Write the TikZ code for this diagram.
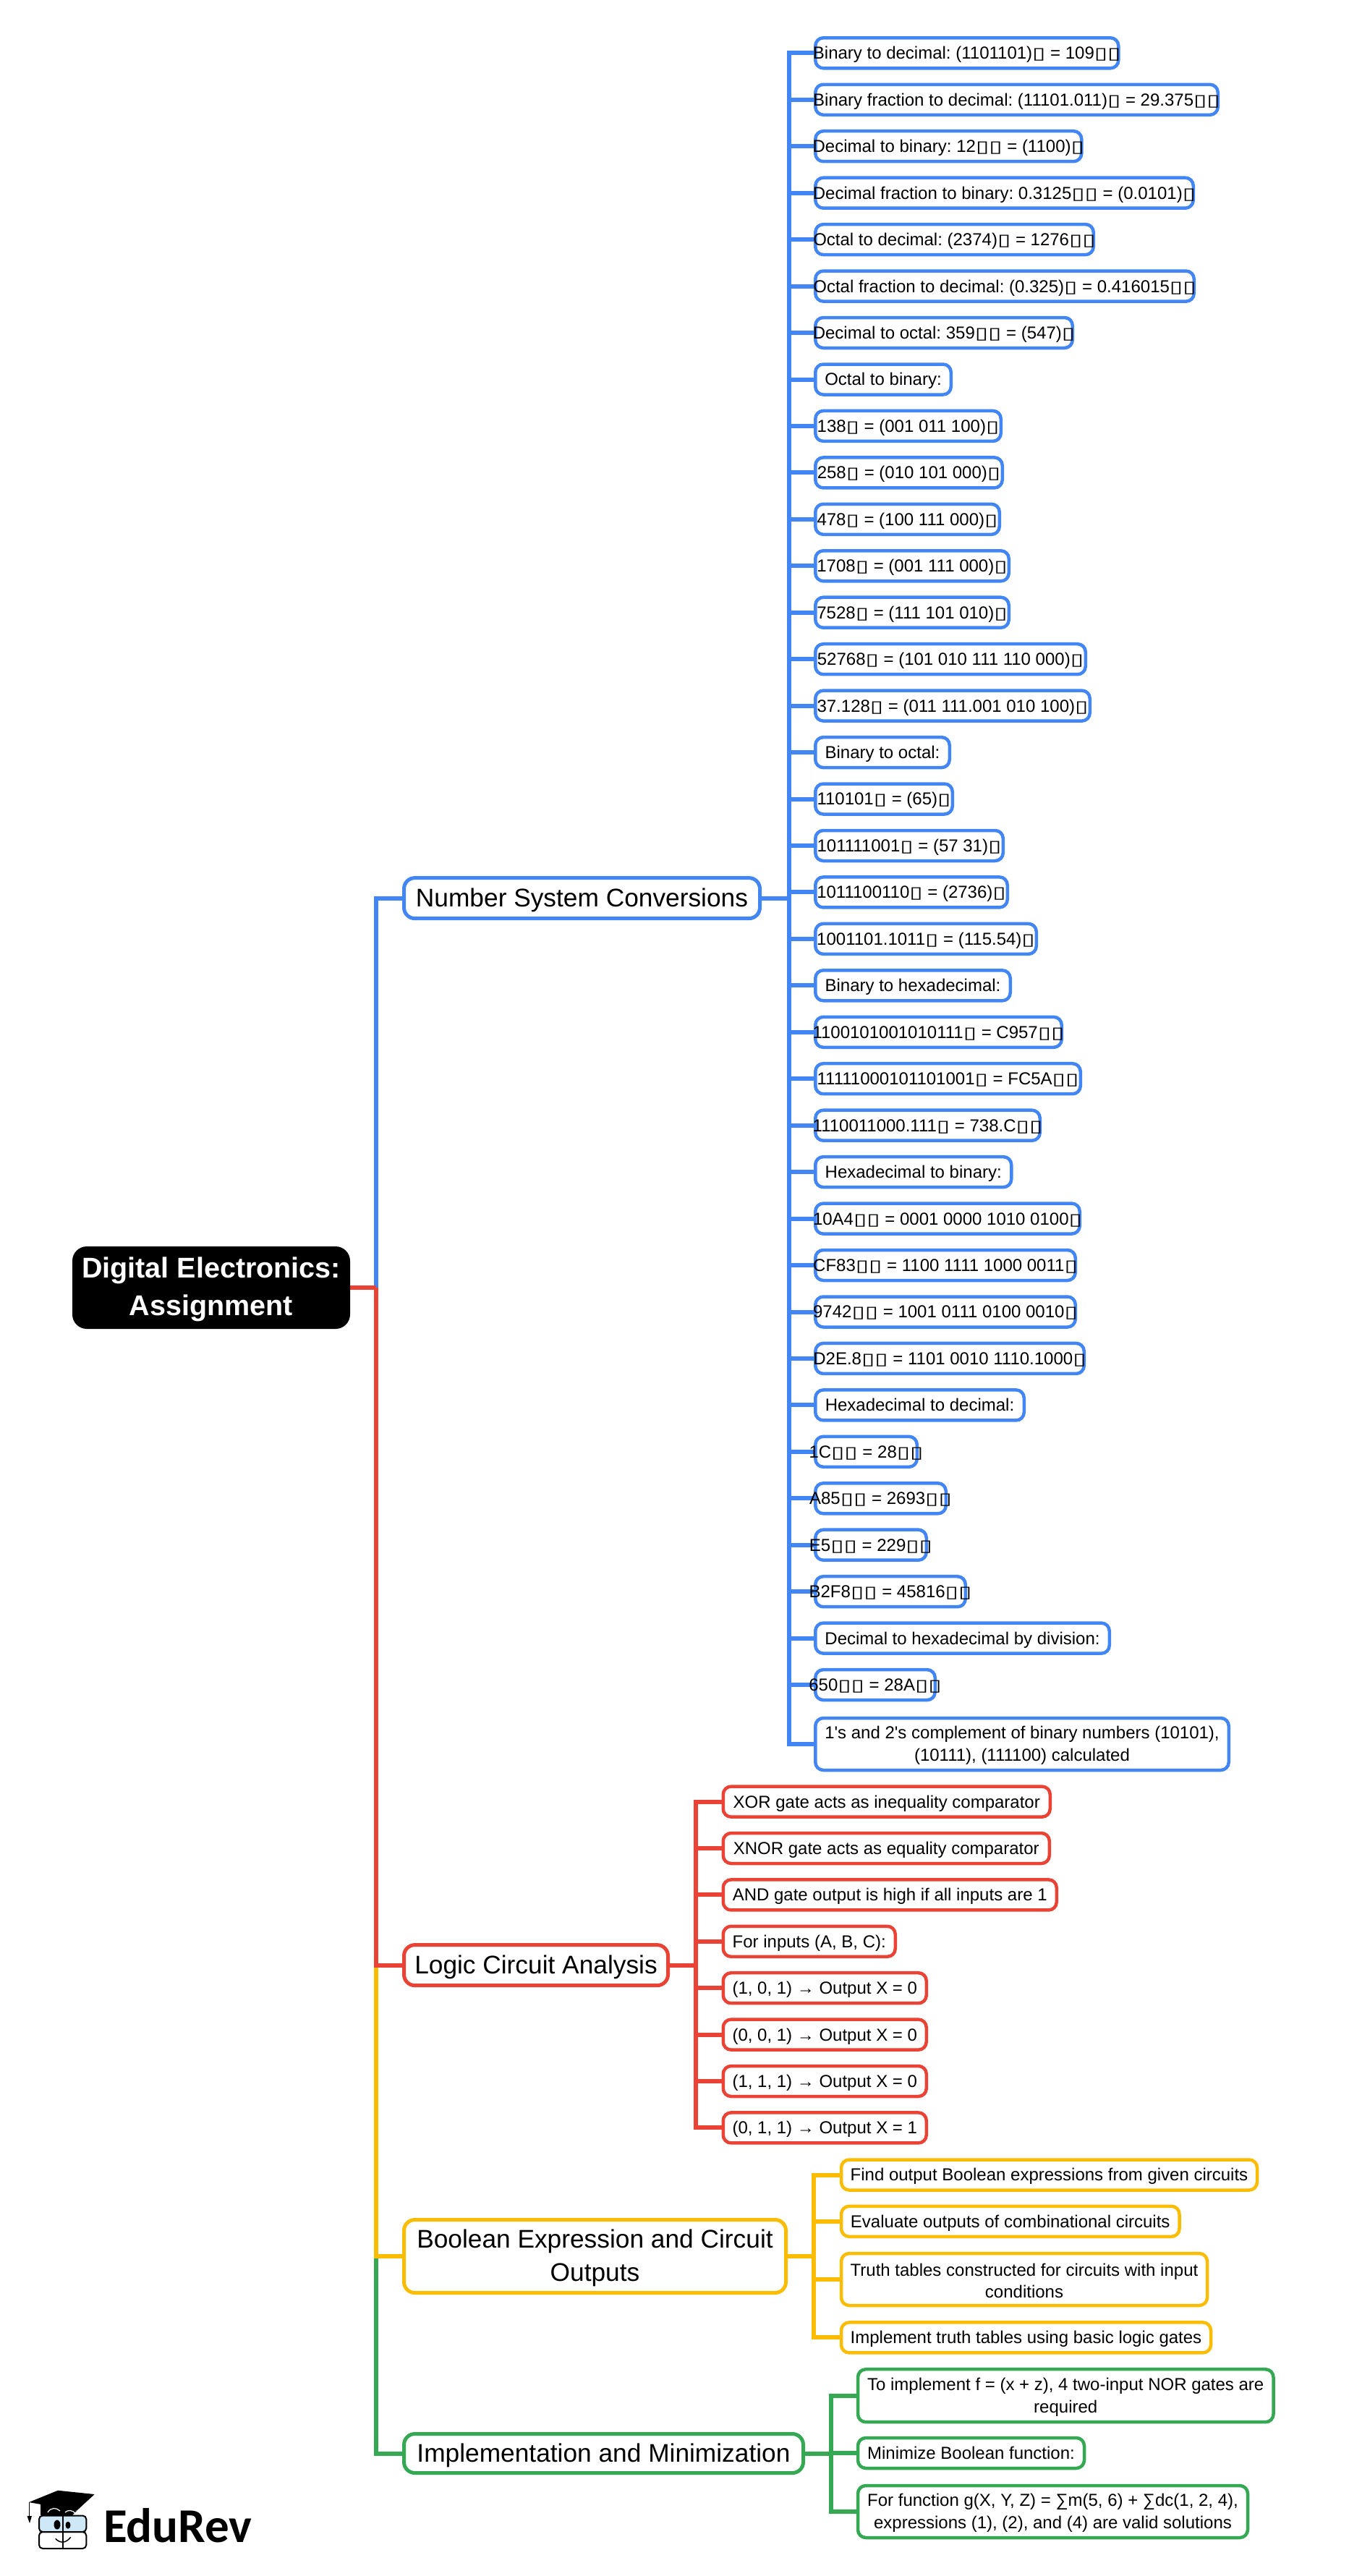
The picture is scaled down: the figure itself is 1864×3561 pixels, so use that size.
\documentclass[tikz,border=0pt]{standalone}
\usepackage{fontspec}
\setmainfont[Ligatures=TeXOff]{Liberation Sans}
\newfontfamily\tofufont[FakeStretch=1.48]{DejaVu Sans}
\newfontfamily\logofont{Carlito}
\usetikzlibrary{positioning}

\definecolor{gblue}{HTML}{4285F4}
\definecolor{gred}{HTML}{EA4335}
\definecolor{gyellow}{HTML}{FBBC04}
\definecolor{ggreen}{HTML}{34A853}
\definecolor{logoblue}{HTML}{CFE8F7}

\pgfdeclarelayer{background}
\pgfsetlayers{background,main}

\newcommand{\tofu}{{\tofufont\fontsize{22.5}{30}\selectfont ▯}}
\newcommand{\ovr}[1]{\makebox[0pt]{#1}}
\newcommand{\lift}[1]{\rule{0pt}{#1}}

\tikzset{
    leaf/.style={draw, fill=white, anchor=west, outer sep=0pt, rounded corners=11pt, line width=4.5pt, inner sep=0pt,
        minimum height=42pt, text height=20pt, text depth=3.2pt, align=center, font=\fontsize{24}{30.5}\selectfont},
    twolines/.style={text height=, text depth=, minimum height=72pt},
    blueleaf/.style={leaf, draw=gblue},
    redleaf/.style={leaf, draw=gred},
    yellowleaf/.style={leaf, draw=gyellow},
    greenleaf/.style={leaf, draw=ggreen},
    branch/.style={draw, fill=white, anchor=west, outer sep=0pt, rounded corners=15pt, line width=5pt, inner sep=0pt,
        text height=27pt, text depth=4pt, align=center, font=\fontsize{35.3}{46}\selectfont},
    rootbox/.style={fill=black, text=white, rounded corners=20pt, inner sep=0pt, align=center,
        minimum width=384pt, minimum height=114pt, font=\fontsize{39.5}{52}\selectfont\bfseries},
    bluelink/.style={draw=gblue, line width=6pt},
    redlink/.style={draw=gred, line width=6pt},
    yellowlink/.style={draw=gyellow, line width=6pt},
    greenlink/.style={draw=ggreen, line width=6pt},
}

\begin{document}
\frenchspacing
\begin{tikzpicture}[x=1pt, y=-1pt]
    \useasboundingbox (0,0) rectangle (1864,3561);

    \node[rootbox] (root) at (292,1780) {\lift{33pt}Digital Electronics:\\Assignment};

    \node[branch, draw=gblue,   minimum width=492pt, minimum height=56pt]  (conv)  at (558.5,1241.6) {Number System Conversions};
    \node[branch, draw=gred,    minimum width=365pt, minimum height=56pt]  (logic) at (558.5,2716.6) {Logic Circuit Analysis};
    \node[branch, draw=gyellow, minimum width=528pt, minimum height=101pt, text height=, text depth=] (bool)  at (558.5,3119)   {\lift{30pt}Boolean Expression and Circuit\\Outputs};
    \node[branch, draw=ggreen,  minimum width=552pt, minimum height=54pt]  (impl)  at (558.5,3391.5) {Implementation and Minimization};

    \node[blueleaf, minimum width=419pt]   (b0)  at (1127.25,73.3)   {\ovr{Binary to decimal: (1101101)\tofu{} = 109\tofu\tofu}};
    \node[blueleaf, minimum width=556.5pt] (b1)  at (1127.25,137.8)  {\ovr{Binary fraction to decimal: (11101.011)\tofu{} = 29.375\tofu\tofu}};
    \node[blueleaf, minimum width=368pt]   (b2)  at (1127.25,202.2)  {\ovr{Decimal to binary: 12\tofu\tofu{} = (1100)\tofu}};
    \node[blueleaf, minimum width=522.5pt] (b3)  at (1127.25,266.7)  {\ovr{Decimal fraction to binary: 0.3125\tofu\tofu{} = (0.0101)\tofu}};
    \node[blueleaf, minimum width=384.5pt] (b4)  at (1127.25,331.1)  {\ovr{Octal to decimal: (2374)\tofu{} = 1276\tofu\tofu}};
    \node[blueleaf, minimum width=523.5pt] (b5)  at (1127.25,395.6)  {\ovr{Octal fraction to decimal: (0.325)\tofu{} = 0.416015\tofu\tofu}};
    \node[blueleaf, minimum width=355.5pt] (b6)  at (1127.25,460)    {\ovr{Decimal to octal: 359\tofu\tofu{} = (547)\tofu}};
    \node[blueleaf, minimum width=187.5pt] (b7)  at (1127.25,524.5)  {Octal to binary:};
    \node[blueleaf, minimum width=256.5pt] (b8)  at (1127.25,588.9)  {\ovr{138\tofu{} = (001 011 100)\tofu}};
    \node[blueleaf, minimum width=258.5pt] (b9)  at (1127.25,653.4)  {\ovr{258\tofu{} = (010 101 000)\tofu}};
    \node[blueleaf, minimum width=254.5pt] (b10) at (1127.25,717.8)  {\ovr{478\tofu{} = (100 111 000)\tofu}};
    \node[blueleaf, minimum width=267.5pt] (b11) at (1127.25,782.3)  {\ovr{1708\tofu{} = (001 111 000)\tofu}};
    \node[blueleaf, minimum width=267.5pt] (b12) at (1127.25,846.7)  {\ovr{7528\tofu{} = (111 101 010)\tofu}};
    \node[blueleaf, minimum width=373.5pt] (b13) at (1127.25,911.2)  {\ovr{52768\tofu{} = (101 010 111 110 000)\tofu}};
    \node[blueleaf, minimum width=379.5pt] (b14) at (1127.25,975.6)  {\ovr{37.128\tofu{} = (011 111.001 010 100)\tofu}};
    \node[blueleaf, minimum width=185.5pt] (b15) at (1127.25,1040.1) {Binary to octal:};
    \node[blueleaf, minimum width=189.5pt] (b16) at (1127.25,1104.5) {\ovr{110101\tofu{} = (65)\tofu}};
    \node[blueleaf, minimum width=259.5pt] (b17) at (1127.25,1169)   {\ovr{101111001\tofu{} = (57 31)\tofu}};
    \node[blueleaf, minimum width=265.5pt] (b18) at (1127.25,1233.4) {\ovr{1011100110\tofu{} = (2736)\tofu}};
    \node[blueleaf, minimum width=305.5pt] (b19) at (1127.25,1297.9) {\ovr{1001101.1011\tofu{} = (115.54)\tofu}};
    \node[blueleaf, minimum width=269.5pt] (b20) at (1127.25,1362.3) {Binary to hexadecimal:};
    \node[blueleaf, minimum width=340.5pt] (b21) at (1127.25,1426.8) {\ovr{1100101001010111\tofu{} = C957\tofu\tofu}};
    \node[blueleaf, minimum width=366.5pt] (b22) at (1127.25,1491.2) {\ovr{11111000101101001\tofu{} = FC5A\tofu\tofu}};
    \node[blueleaf, minimum width=310.5pt] (b23) at (1127.25,1555.7) {\ovr{1110011000.111\tofu{} = 738.C\tofu\tofu}};
    \node[blueleaf, minimum width=271pt]   (b24) at (1127.25,1620.1) {Hexadecimal to binary:};
    \node[blueleaf, minimum width=365.5pt] (b25) at (1127.25,1684.6) {\ovr{10A4\tofu\tofu{} = 0001 0000 1010 0100\tofu}};
    \node[blueleaf, minimum width=359.5pt] (b26) at (1127.25,1749)   {\ovr{CF83\tofu\tofu{} = 1100 1111 1000 0011\tofu}};
    \node[blueleaf, minimum width=359.5pt] (b27) at (1127.25,1813.5) {\ovr{9742\tofu\tofu{} = 1001 0111 0100 0010\tofu}};
    \node[blueleaf, minimum width=371.5pt] (b28) at (1127.25,1877.9) {\ovr{D2E.8\tofu\tofu{} = 1101 0010 1110.1000\tofu}};
    \node[blueleaf, minimum width=288.5pt] (b29) at (1127.25,1942.4) {Hexadecimal to decimal:};
    \node[blueleaf, minimum width=140.5pt] (b30) at (1127.25,2006.8) {\ovr{1C\tofu\tofu{} = 28\tofu\tofu}};
    \node[blueleaf, minimum width=180.5pt] (b31) at (1127.25,2071.3) {\ovr{A85\tofu\tofu{} = 2693\tofu\tofu}};
    \node[blueleaf, minimum width=153.5pt] (b32) at (1127.25,2135.7) {\ovr{E5\tofu\tofu{} = 229\tofu\tofu}};
    \node[blueleaf, minimum width=207.5pt] (b33) at (1127.25,2200.2) {\ovr{B2F8\tofu\tofu{} = 45816\tofu\tofu}};
    \node[blueleaf, minimum width=406.5pt] (b34) at (1127.25,2264.6) {Decimal to hexadecimal by division:};
    \node[blueleaf, minimum width=165.5pt] (b35) at (1127.25,2329.1) {\ovr{650\tofu\tofu{} = 28A\tofu\tofu}};
    \node[blueleaf, twolines, minimum width=571.5pt] (b36) at (1127.25,2411) {\lift{21pt}1's and 2's complement of binary numbers (10101),\\(10111), (111100) calculated};

    \node[redleaf, minimum width=452pt] (r0) at (999.75,2490.6) {XOR gate acts as inequality comparator};
    \node[redleaf, minimum width=451pt] (r1) at (999.75,2555)   {XNOR gate acts as equality comparator};
    \node[redleaf, minimum width=461pt] (r2) at (999.75,2619.4) {AND gate output is high if all inputs are 1};
    \node[redleaf, minimum width=238pt] (r3) at (999.75,2683.8) {For inputs (A, B, C):};
    \node[redleaf, minimum width=281pt] (r4) at (999.75,2748.2) {(1, 0, 1) → Output X = 0};
    \node[redleaf, minimum width=281pt] (r5) at (999.75,2812.6) {(0, 0, 1) → Output X = 0};
    \node[redleaf, minimum width=281pt] (r6) at (999.75,2877)   {(1, 1, 1) → Output X = 0};
    \node[redleaf, minimum width=281pt] (r7) at (999.75,2941.4) {(0, 1, 1) → Output X = 1};

    \node[yellowleaf, minimum width=575pt]   (y0) at (1163,3006.5) {Find output Boolean expressions from given circuits};
    \node[yellowleaf, minimum width=467.5pt] (y1) at (1163,3070.8) {Evaluate outputs of combinational circuits};
    \node[yellowleaf, twolines, minimum width=506pt] (y2) at (1163,3151) {\lift{21pt}Truth tables constructed for circuits with input\\conditions};
    \node[yellowleaf, minimum width=511pt]   (y3) at (1163,3231.4) {Implement truth tables using basic logic gates};

    \node[greenleaf, twolines, minimum width=574.5pt, minimum height=73pt] (g0) at (1186,3311.7) {\lift{21pt}To implement f = (x + z), 4 two-input NOR gates are\\required};
    \node[greenleaf, minimum width=313pt]            (g1) at (1186,3391)   {Minimize Boolean function:};
    \node[greenleaf, twolines, minimum width=539pt]  (g2) at (1186,3472)   {\lift{21pt}For function g(X, Y, Z) = ∑m(5, 6) + ∑dc(1, 2, 4),\\expressions (1), (2), and (4) are valid solutions};

    \coordinate (maintrunk) at (520,1780);
    \coordinate (bluetrunk) at (1090.5,1241.6);
    \coordinate (redtrunk) at (962,2716.6);
    \coordinate (yellowtrunk) at (1124.5,3119);
    \coordinate (greentrunk) at (1148.7,3391.5);

    \begin{pgfonlayer}{background}
        \draw [greenlink]  (maintrunk) |- (impl.west);
        \draw [yellowlink] (maintrunk) |- (bool.west);
        \draw [bluelink]   (maintrunk) |- (conv.west);
        \draw [redlink]    (maintrunk) |- (logic.west);
        \draw [redlink]    (root.east) -- (maintrunk);

        \draw [bluelink] (conv.east) -- (bluetrunk);
        \draw [bluelink] (bluetrunk) |- (b0.west);
        \draw [bluelink] (bluetrunk) |- (b1.west);
        \draw [bluelink] (bluetrunk) |- (b2.west);
        \draw [bluelink] (bluetrunk) |- (b3.west);
        \draw [bluelink] (bluetrunk) |- (b4.west);
        \draw [bluelink] (bluetrunk) |- (b5.west);
        \draw [bluelink] (bluetrunk) |- (b6.west);
        \draw [bluelink] (bluetrunk) |- (b7.west);
        \draw [bluelink] (bluetrunk) |- (b8.west);
        \draw [bluelink] (bluetrunk) |- (b9.west);
        \draw [bluelink] (bluetrunk) |- (b10.west);
        \draw [bluelink] (bluetrunk) |- (b11.west);
        \draw [bluelink] (bluetrunk) |- (b12.west);
        \draw [bluelink] (bluetrunk) |- (b13.west);
        \draw [bluelink] (bluetrunk) |- (b14.west);
        \draw [bluelink] (bluetrunk) |- (b15.west);
        \draw [bluelink] (bluetrunk) |- (b16.west);
        \draw [bluelink] (bluetrunk) |- (b17.west);
        \draw [bluelink] (bluetrunk) |- (b18.west);
        \draw [bluelink] (bluetrunk) |- (b19.west);
        \draw [bluelink] (bluetrunk) |- (b20.west);
        \draw [bluelink] (bluetrunk) |- (b21.west);
        \draw [bluelink] (bluetrunk) |- (b22.west);
        \draw [bluelink] (bluetrunk) |- (b23.west);
        \draw [bluelink] (bluetrunk) |- (b24.west);
        \draw [bluelink] (bluetrunk) |- (b25.west);
        \draw [bluelink] (bluetrunk) |- (b26.west);
        \draw [bluelink] (bluetrunk) |- (b27.west);
        \draw [bluelink] (bluetrunk) |- (b28.west);
        \draw [bluelink] (bluetrunk) |- (b29.west);
        \draw [bluelink] (bluetrunk) |- (b30.west);
        \draw [bluelink] (bluetrunk) |- (b31.west);
        \draw [bluelink] (bluetrunk) |- (b32.west);
        \draw [bluelink] (bluetrunk) |- (b33.west);
        \draw [bluelink] (bluetrunk) |- (b34.west);
        \draw [bluelink] (bluetrunk) |- (b35.west);
        \draw [bluelink] (bluetrunk) |- (b36.west);

        \draw [redlink] (logic.east) -- (redtrunk);
        \draw [redlink] (redtrunk) |- (r0.west);
        \draw [redlink] (redtrunk) |- (r1.west);
        \draw [redlink] (redtrunk) |- (r2.west);
        \draw [redlink] (redtrunk) |- (r3.west);
        \draw [redlink] (redtrunk) |- (r4.west);
        \draw [redlink] (redtrunk) |- (r5.west);
        \draw [redlink] (redtrunk) |- (r6.west);
        \draw [redlink] (redtrunk) |- (r7.west);

        \draw [yellowlink] (bool.east) -- (yellowtrunk);
        \draw [yellowlink] (yellowtrunk) |- (y0.west);
        \draw [yellowlink] (yellowtrunk) |- (y1.west);
        \draw [yellowlink] (yellowtrunk) |- (y2.west);
        \draw [yellowlink] (yellowtrunk) |- (y3.west);

        \draw [greenlink] (impl.east) -- (greentrunk);
        \draw [greenlink] (greentrunk) |- (g0.west);
        \draw [greenlink] (greentrunk) |- (g1.west);
        \draw [greenlink] (greentrunk) |- (g2.west);
    \end{pgfonlayer}

    % logo
    \node[anchor=west, inner sep=0pt, font=\logofont\fontsize{67}{67}\selectfont\bfseries] (logotext) at (143,3491) {EduRev};
    \fill (40,3459) -- (80,3442.7) -- (130.7,3448) -- (106,3470.7) -- cycle;
    \fill (56,3460) -- (106,3470.7) -- (100,3477) -- (56,3477) -- cycle;
    \draw [line width=1.2pt] (40.7,3459) -- (40.7,3478);
    \fill (37.5,3478) -- (44,3478) -- (41,3488) -- cycle;
    \draw [white, line width=1.2pt] (66,3473) .. controls (70,3466) and (78,3466) .. (83,3471);
    \draw [white, line width=1.2pt] (90,3473) .. controls (94,3469) and (100,3470) .. (104,3474);
    \draw [line width=2pt, rounded corners=5pt, fill=logoblue] (54,3477.5) rectangle (119.3,3500);
    \draw [line width=2pt, rounded corners=5pt] (54,3500) rectangle (119.3,3523);
    \draw [line width=2pt] (86.7,3476) -- (86.7,3524);
    \fill (79,3490) ellipse [x radius=4.5, y radius=6.5];
    \fill (94,3490.7) ellipse [x radius=3.5, y radius=5];
    \draw [line width=1.5pt] (76.7,3509.3) .. controls (83,3516) and (91,3516) .. (97.7,3507.3);
\end{tikzpicture}
\end{document}
